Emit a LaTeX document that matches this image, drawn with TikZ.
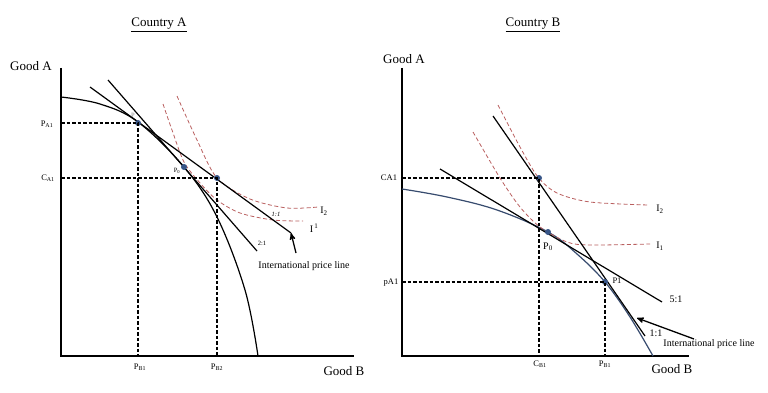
\documentclass[tikz,border=0pt]{standalone}
\usepackage{fontspec}
\setmainfont{Liberation Serif}
\usetikzlibrary{arrows}
\definecolor{indiffred}{RGB}{185,95,95}
\definecolor{ppfblue}{RGB}{55,75,110}
\definecolor{dotblue}{RGB}{55,85,135}

\begin{document}
\begin{tikzpicture}[x=1pt,y=-1pt,>=stealth',
    axis/.style={line width=1.3pt},
    guide/.style={line width=1.1pt,dash pattern=on 3.5pt off 2pt},
    indiff/.style={indiffred,line width=0.8pt,dash pattern=on 4pt off 2.5pt},
    price line/.style={line width=1.2pt},
    dot/.style={circle,fill=dotblue,inner sep=0pt,minimum size=6pt},
    tiny label/.style={font=\fontsize{6.5}{8}\selectfont},
    small label/.style={font=\fontsize{8.5}{10}\selectfont},
    mid label/.style={font=\fontsize{10}{12}\selectfont},
    big label/.style={font=\fontsize{13}{15}\selectfont}]
  \useasboundingbox (0,0) rectangle (768,393);

  % Country A
  \begin{scope}
    \node[big label] (titlea) at (159,25) {\underline{Country A}};
    \coordinate (oa) at (61,356);
    \coordinate (ya) at (61,68);
    \coordinate (xa) at (354,356);
    \draw[axis] (ya) -- (oa) -- (xa);
    \node[big label] (gooda) at (31,66) {Good A};
    \node[big label] (goodba) at (344,371) {Good B};
    % production possibility frontier
    \draw[line width=1.2pt] plot[smooth,tension=0.6] coordinates {(61,97) (100,104) (138,122) (184,167) (217,217) (245,290) (258,356)};
    % indifference curves
    \draw[indiff] plot[smooth] coordinates {(177,96) (197,140) (217,178) (250,199) (287,208) (318,207)};
    \draw[indiff] plot[smooth] coordinates {(163,104) (172,130) (184,162) (200,183) (217,200) (240,213) (273,220) (303,221)};
    % price lines
    \coordinate (ipa) at (90,87);
    \coordinate (ipb) at (291,233);
    \coordinate (aua) at (108,80);
    \coordinate (aub) at (257,251);
    \draw[price line] (ipa) -- (ipb);
    \draw[price line] (aua) -- (aub);
    \node[dot] (p1a) at (138,123) {};
    \node[dot] (p0a) at (184,167) {};
    \node[dot] (c1a) at (217,178) {};
    \draw[guide] (p1a -| oa) -- (p1a.center) -- (p1a |- oa);
    \draw[guide] (c1a -| oa) -- (c1a.center) -- (c1a |- oa);
    \node[small label] (pa1) at (47,124) {P\textsubscript{A1}};
    \node[small label] (ca1) at (48,178) {C\textsubscript{A1}};
    \node[small label] (pb1) at (140,367) {P\textsubscript{B1}};
    \node[small label] (pb2) at (217,367) {P\textsubscript{B2}};
    \node[tiny label,gray] (p1lbl) at (133,115) {P};
    \node[tiny label] (p0lbl) at (177,171) {P\textsubscript{0}};
    \node[tiny label] (ratioa) at (276,214) {\textit{1:1}};
    \node[tiny label] (ratiob) at (262,243) {2:1};
    \node[mid label] (i2a) at (324,211) {I\textsubscript{2}};
    \node[mid label] (i1a) at (314,228) {I\textsuperscript{\,1}};
    \node[mid label] (intla) at (304,266) {International price line};
    \coordinate (arrta) at (296,253);
    \draw[->,line width=1.3pt] (arrta) -- (ipb);
  \end{scope}

  % Country B
  \begin{scope}
    \node[big label] (titleb) at (533,25) {\underline{Country B}};
    \coordinate (ob) at (402,356);
    \coordinate (yb) at (402,68);
    \coordinate (xb) at (689,356);
    \draw[axis] (yb) -- (ob) -- (xb);
    \node[big label] (goodab) at (404,59) {Good A};
    \node[big label] (goodbb) at (672,369) {Good B};
    % production possibility frontier
    \draw[ppfblue,line width=1.2pt] plot[smooth,tension=0.6] coordinates {(402,189) (447,197) (497,210) (548,232) (577,254) (605,282) (630,317) (653,356)};
    % indifference curves
    \draw[indiff] plot[smooth] coordinates {(498,105) (520,147) (538,177) (557,193) (590,202) (648,205)};
    \draw[indiff] plot[smooth] coordinates {(473,132) (500,178) (520,207) (540,227) (567,242) (590,245) (650,244)};
    % price lines
    \coordinate (ipc) at (493,116);
    \coordinate (ipd) at (645,336);
    \coordinate (auc) at (440,169);
    \coordinate (aud) at (662,302);
    \draw[price line] (ipc) -- (ipd);
    \draw[price line] (auc) -- (aud);
    \node[dot] (c1b) at (539,178) {};
    \node[dot] (p0b) at (548,232) {};
    \node[dot] (p1b) at (605,282) {};
    \draw[guide] (c1b -| ob) -- (c1b.center) -- (c1b |- ob);
    \draw[guide] (p1b -| ob) -- (p1b.center) -- (p1b |- ob);
    \node[small label] (ca1b) at (389,178) {CA1};
    \node[small label] (pa1b) at (391,283) {pA1};
    \node[small label] (cb1b) at (540,364) {C\textsubscript{B1}};
    \node[small label] (pb1b) at (605,364) {P\textsubscript{B1}};
    \node[mid label] (p0lblb) at (548,247) {P\textsubscript{0}};
    \node[small label] (p1lblb) at (617,281) {P1};
    \node[mid label] (ratioc) at (676,299) {5:1};
    \node[mid label] (ratiod) at (656,333) {1:1};
    \node[mid label] (i2b) at (660,209) {I\textsubscript{2}};
    \node[mid label] (i1b) at (660,246) {I\textsubscript{1}};
    \node[mid label] (intlb) at (709,344) {International price line};
    \coordinate (arrtb) at (694,339);
    \coordinate (arrhb) at (637,318);
    \draw[->,line width=1.3pt] (arrtb) -- (arrhb);
  \end{scope}
\end{tikzpicture}
\end{document}
